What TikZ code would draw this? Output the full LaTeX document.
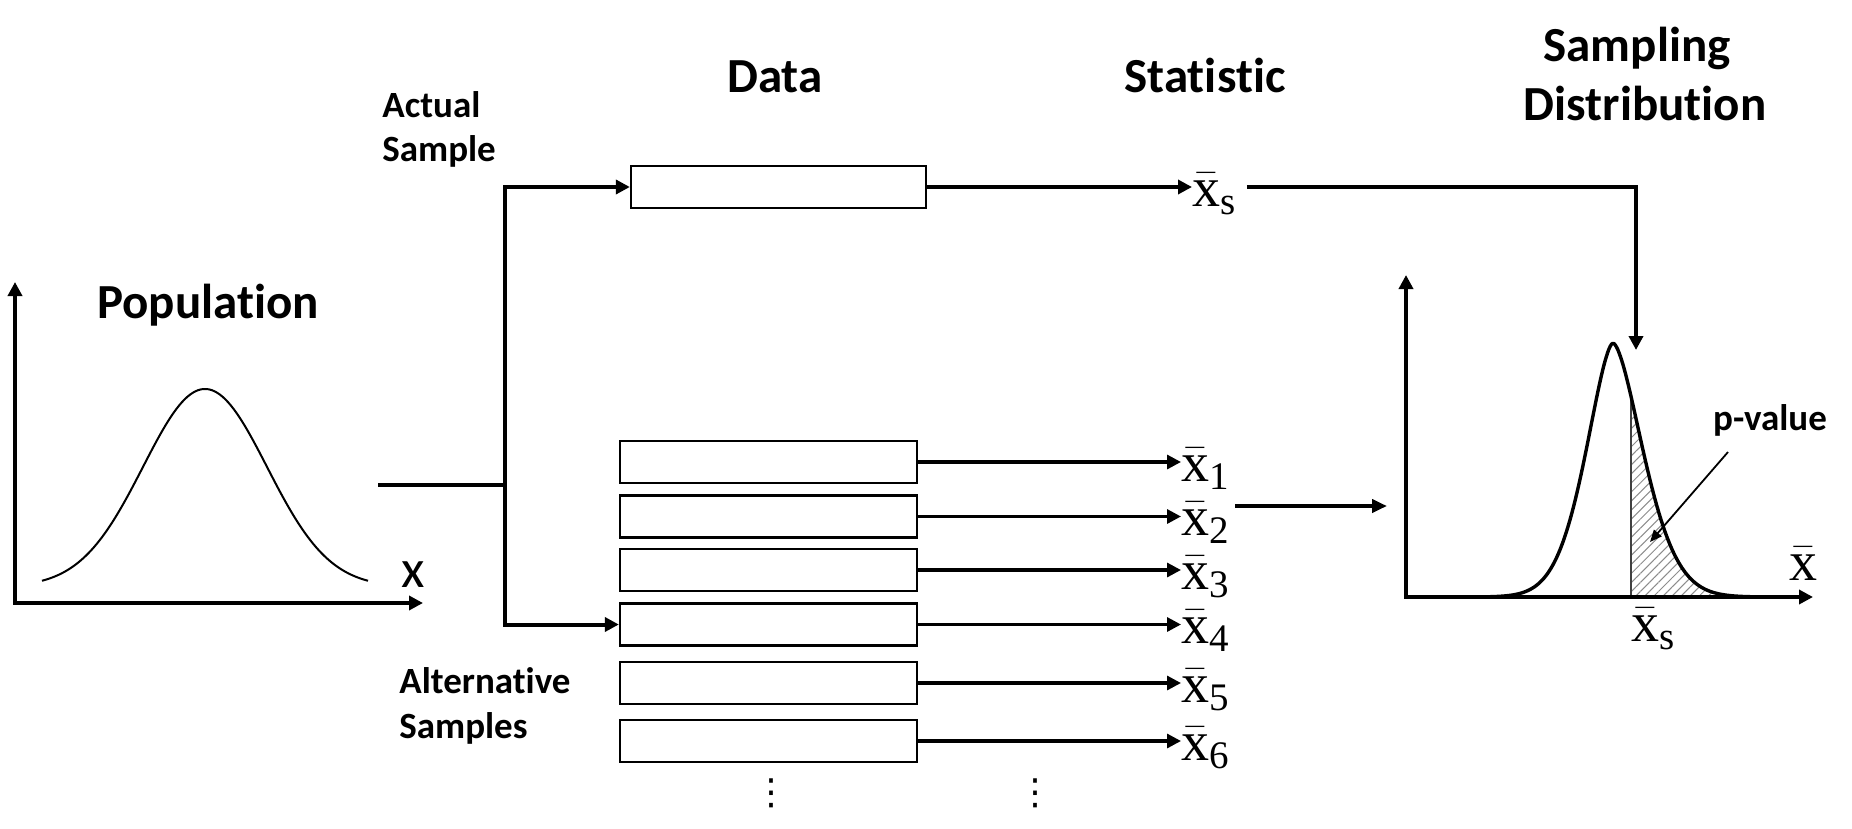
\RequirePackage{fix-cm}
\documentclass[tikz,border=0pt]{standalone}
\usepackage[no-math]{fontspec}
\setmainfont{Carlito}[Ligatures=NoCommon]
\newfontfamily\lser{Liberation Serif}
\newfontfamily\djv{DejaVu Sans}
\newcommand\xbarlbl[1]{\ensuremath{\bar{\hbox{\lser x}}_{\hbox{\lser\fontsize{19.5}{19.5}\selectfont #1}}}}
\usetikzlibrary{arrows.meta,patterns.meta}
\begin{document}
\begin{tikzpicture}[x=0.5pt,y=-0.5pt,
  tip/.style={-{Triangle[length=7pt,width=7pt]}},
  conn/.style={line width=2pt},
  sm/.style={line width=1.6pt},
  box/.style={draw,line width=1.15pt,minimum width=148.5pt,minimum height=21pt,inner sep=0pt},
  title/.style={font=\bfseries\fontsize{24.5}{25}\selectfont,inner sep=0pt},
  sub/.style={font=\bfseries\fontsize{18.5}{22}\selectfont,inner sep=0pt},
  pv/.style={font=\bfseries\fontsize{18.5}{20}\selectfont,inner sep=0pt},
  ml/.style={font=\fontsize{28}{28}\selectfont,inner sep=0pt},
  dotsn/.style={font=\djv\fontsize{18}{18}\selectfont,inner sep=0pt},
]
\useasboundingbox (0,0) rectangle (1852,829);

% ---- titles
\node[title,anchor=base] (pop) at (208,318) {Population};
\node[title,anchor=base] (data) at (775,93) {Data};
\node[title,anchor=base] (stat) at (1205,93) {Statistic};
\node[title,anchor=base] (samp1) at (1637,62) {Sampling};
\node[title,anchor=base] (samp2) at (1645,120) {Distribution};
\node[sub,anchor=base west] (act1) at (382,118) {Actual};
\node[sub,anchor=base west] (act2) at (382,162) {Sample};
\node[sub,anchor=base west] (alt1) at (399,693) {Alternative};
\node[sub,anchor=base west] (alt2) at (399,738) {Samples};

% ---- population plot
\coordinate (O1) at (15,603);
\coordinate (y1) at (15,282);
\coordinate (x1) at (423,603);
\draw[conn,line join=miter,{Triangle[length=7pt,width=7pt]}-{Triangle[length=7pt,width=7pt]}] (y1) -- (O1) -- (x1);
\draw[line width=1pt] plot[domain=42:368,samples=120,smooth] (\x,{587-198*exp(-0.5*((\x-205)/62)*((\x-205)/62))});
\node[font=\fontsize{27}{27}\selectfont,inner sep=0pt,anchor=base] (xlab) at (413,587) {x};

% ---- data boxes
\node[box,minimum width=147.5pt] (top) at (778.5,187) {};
\node[box] (b1) at (768.5,462) {};
\node[box] (b2) at (768.5,516.5) {};
\node[box] (b3) at (768.5,570) {};
\node[box] (b4) at (768.5,624.5) {};
\node[box] (b5) at (768.5,683) {};
\node[box] (b6) at (768.5,741) {};

% ---- statistic labels
\node[ml,anchor=base west] (xs) at (1192,206) {\xbarlbl{s}};
\node[ml,anchor=base west] (s1) at (1181,481) {\xbarlbl{1}};
\node[ml,anchor=base west] (s2) at (1181,535.5) {\xbarlbl{2}};
\node[ml,anchor=base west] (s3) at (1181,589) {\xbarlbl{3}};
\node[ml,anchor=base west] (s4) at (1181,643.5) {\xbarlbl{4}};
\node[ml,anchor=base west] (s5) at (1181,702) {\xbarlbl{5}};
\node[ml,anchor=base west] (s6) at (1181,760) {\xbarlbl{6}};

% ---- vertical dots
\node[dotsn,anchor=base] (d1) at (771,804) {⋮};
\node[dotsn,anchor=base] (d2) at (1035,804) {⋮};

% ---- connectors
\coordinate (popend) at (378,485);
\coordinate (split) at (505,485);
\draw[conn] (popend) -- (split);
\draw[conn,tip] (split) |- (top.west);
\draw[conn,tip] (split) |- (b4.west);
\draw[conn,tip] (top.east) -- (top.east -| xs.west);
\foreach \i in {1,...,6} \draw[sm,tip] (b\i.east) -- (b\i.east -| s\i.west);
\coordinate (tipS) at (1636,350);
\draw[conn,tip] (xs.east |- top.east) ++(10,0) -| (tipS);
\coordinate (midS) at (1235,506);
\coordinate (midE) at (1387,506);
\draw[conn,-{Triangle[length=7.5pt,width=6.5pt]}] (midS) -- (midE);

% ---- sampling distribution plot
\fill[pattern={Lines[angle=45,distance=3.2pt,line width=0.5pt]},pattern color=black!45]
  (1631,597) -- plot[domain=1631:1780,samples=80] (\x,{597-254*exp(-((abs(\x-1613)+0.01)/43.2)^1.65)}) -- (1780,597) -- cycle;
\draw[line width=0.9pt,black!75] (1631,597) -- (1631,{597-254*exp(-((1631-1613)/43.2)^1.65)});
\coordinate (O2) at (1406,597);
\coordinate (y2) at (1406,275);
\coordinate (x2) at (1813,597);
\draw[conn,line join=miter,{Triangle[length=7pt,width=7pt]}-{Triangle[length=7pt,width=7pt]}] (y2) -- (O2) -- (x2);
\draw[line width=1.7pt,line join=round,smooth]
  plot[domain=1452:1612,samples=90] (\x,{597-254*exp(-((abs(\x-1613)+0.01)/38.7)^1.65)})
  -- plot[domain=1614:1780,samples=90] (\x,{597-254*exp(-((abs(\x-1613)+0.01)/43.2)^1.65)});
\node[ml,anchor=base] (xbar) at (1803,580) {\ensuremath{\bar{\hbox{\lser x}}}};
\node[ml,anchor=base west] (xs2) at (1631,641) {\xbarlbl{s}};
\node[pv,anchor=base] (pval) at (1770,430) {p-value};
\coordinate (pvfrom) at (1728,452);
\coordinate (pvto) at (1650,542);
\draw[line width=0.9pt,-{Triangle[length=6pt,width=5pt]}] (pvfrom) -- (pvto);
\end{tikzpicture}
\end{document}
